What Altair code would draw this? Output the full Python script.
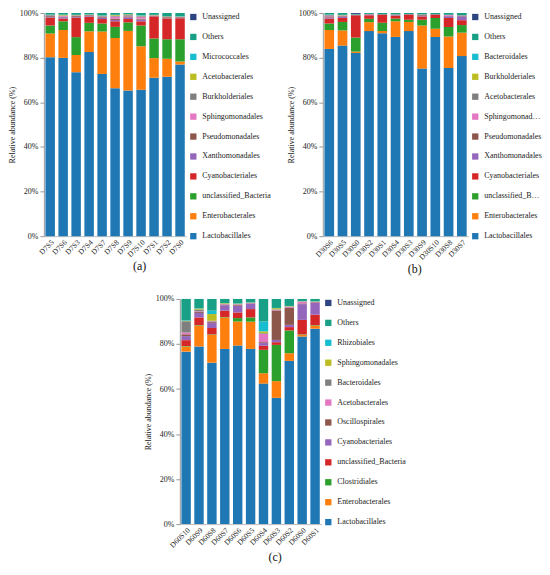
import altair as alt
import pandas as pd

### Relative abundance of the top orders in three groups of samples (D7, D30, D60)

serif = "Liberation Serif"

# same colour sequence in all three panels, from the bottom of the stack upward
palette = ["#1f77b4", "#ff7f0e", "#2ca02c", "#d62728", "#9467bd", "#8c564b",
           "#e377c2", "#7f7f7f", "#bcbd22", "#17becf", "#17a086", "#2e4482"]

### panel (a): day 7

a_samples = ["D7S5", "D7S6", "D7S3", "D7S4", "D7S7", "D7S8", "D7S9", "D7S10", "D7S1", "D7S2", "D7S0"]
a_taxa = ["Lactobacillales", "Enterobacterales", "unclassified_Bacteria", "Cyanobacteriales",
          "Xanthomonadales", "Pseudomonadales", "Sphingomonadales", "Burkholderiales",
          "Acetobacterales", "Micrococcales", "Others", "Unassigned"]
a_values = [
    [80.2, 79.9, 73.5, 82.5, 72.7, 66.3, 65.3, 65.6, 71.0, 71.4, 76.9],
    [10.6, 12.5, 7.7, 9.3, 19.0, 22.5, 26.7, 19.5, 8.8, 8.1, 1.4],
    [3.6, 3.9, 8.0, 3.8, 3.6, 5.0, 3.8, 9.3, 8.8, 8.8, 10.0],
    [3.4, 1.2, 8.6, 2.7, 2.0, 2.5, 1.5, 1.9, 9.9, 9.1, 9.4],
    [0.3, 0.6, 0.3, 0.3, 0.6, 0.6, 0.7, 0.8, 0.1, 0.2, 0.1],
    [0.5, 0.3, 0.5, 0.4, 0.3, 0.5, 0.5, 0.4, 0.2, 0.5, 0.3],
    [0.2, 0.3, 0.2, 0.1, 0.2, 1.0, 0.3, 0.8, 0.1, 0.1, 0.1],
    [0.3, 0.2, 0.2, 0.1, 0.3, 0.4, 0.3, 0.3, 0.1, 0.2, 0.1],
    [0.1, 0.3, 0.1, 0.1, 0.1, 0.3, 0.3, 0.2, 0.1, 0.1, 0.1],
    [0.1, 0.1, 0.1, 0.1, 0.1, 0.1, 0.1, 0.2, 0.1, 0.1, 0.1],
    [0.7, 0.7, 0.8, 0.6, 1.1, 0.8, 0.5, 1.0, 0.8, 1.4, 1.5],
    [0.0, 0.0, 0.0, 0.0, 0.0, 0.0, 0.0, 0.0, 0.0, 0.0, 0.0],
]

### panel (b): day 30

b_samples = ["D30S6", "D30S5", "D30S0", "D30S2", "D30S1", "D30S4", "D30S3", "D30S9", "D30S10", "D30S8", "D30S7"]
b_taxa = ["Lactobacillales", "Enterobacterales", "unclassified_Bacteria", "Cyanobacteriales",
          "Xanthomonadales", "Pseudomonadales", "Sphingomonadales", "Acetobacterales",
          "Burkholderiales", "Bacteroidales", "Others", "Unassigned"]
b_values = [
    [83.9, 85.4, 82.1, 91.9, 90.9, 89.3, 91.9, 75.1, 89.3, 75.4, 80.7],
    [8.5, 6.8, 0.6, 4.0, 1.0, 7.0, 4.1, 19.3, 3.7, 14.1, 10.5],
    [2.9, 3.8, 6.3, 1.5, 3.7, 1.2, 1.0, 2.6, 4.8, 4.2, 3.4],
    [2.2, 1.8, 10.0, 1.6, 3.7, 1.3, 2.3, 1.5, 1.5, 4.1, 2.2],
    [0.5, 0.5, 0.1, 0.2, 0.1, 0.2, 0.1, 0.3, 0.1, 0.8, 1.7],
    [0.5, 0.3, 0.1, 0.2, 0.1, 0.2, 0.1, 0.4, 0.1, 0.2, 0.3],
    [0.3, 0.2, 0.0, 0.1, 0.0, 0.1, 0.0, 0.1, 0.0, 0.3, 0.1],
    [0.3, 0.2, 0.1, 0.1, 0.0, 0.1, 0.0, 0.1, 0.0, 0.1, 0.1],
    [0.1, 0.1, 0.0, 0.0, 0.0, 0.0, 0.0, 0.0, 0.0, 0.0, 0.0],
    [0.1, 0.1, 0.0, 0.0, 0.0, 0.0, 0.0, 0.0, 0.0, 0.0, 0.0],
    [0.7, 0.8, 0.3, 0.4, 0.5, 0.6, 0.5, 0.6, 0.5, 0.8, 1.0],
    [0.0, 0.0, 0.4, 0.0, 0.0, 0.0, 0.0, 0.0, 0.0, 0.0, 0.0],
]

### panel (c): day 60

c_samples = ["D60S10", "D60S9", "D60S8", "D60S7", "D60S6", "D60S5", "D60S4", "D60S3", "D60S2", "D60S0", "D60S1"]
c_taxa = ["Lactobacillales", "Enterobacterales", "Clostridiales", "unclassified_Bacteria",
          "Cyanobacteriales", "Oscillospirales", "Acetobacterales", "Bacteroidales",
          "Sphingomonadales", "Rhizobiales", "Others", "Unassigned"]
c_values = [
    [76.6, 78.9, 71.7, 77.8, 79.3, 77.8, 62.4, 56.1, 72.5, 83.3, 86.8],
    [2.3, 9.3, 12.4, 14.0, 10.7, 12.1, 4.6, 7.4, 3.4, 0.8, 1.4],
    [0.2, 0.2, 0.2, 0.2, 1.5, 1.9, 10.4, 16.1, 10.1, 0.2, 0.2],
    [2.6, 3.4, 2.8, 2.8, 2.5, 3.7, 1.8, 1.2, 1.5, 6.4, 4.6],
    [1.8, 2.0, 2.2, 2.4, 3.0, 2.4, 1.2, 1.0, 1.0, 7.0, 5.2],
    [0.8, 0.5, 0.4, 0.3, 0.3, 0.2, 0.4, 13.1, 7.5, 0.3, 0.3],
    [0.8, 0.2, 0.3, 0.2, 0.3, 0.1, 3.7, 0.3, 0.4, 0.8, 0.2],
    [5.0, 0.8, 0.3, 0.1, 0.1, 0.1, 0.3, 0.2, 0.2, 0.1, 0.1],
    [0.2, 0.4, 3.0, 0.3, 0.2, 0.1, 0.8, 0.5, 0.2, 0.1, 0.1],
    [0.2, 0.1, 1.5, 0.1, 0.1, 0.1, 4.4, 0.1, 0.1, 0.1, 0.1],
    [9.5, 4.2, 5.2, 1.8, 2.0, 1.5, 10.0, 4.0, 3.1, 0.9, 1.0],
    [0.0, 0.0, 0.0, 0.0, 0.0, 0.0, 0.0, 0.0, 0.0, 0.0, 0.0],
]


### builds one stacked bar panel from a sample list, a taxon list and the values per taxon

def stacked_panel(samples, taxa, values, caption, width, height, label_limit=0):
    rows = []
    for rank, (taxon, vals) in enumerate(zip(taxa, values)):
        for sample, v in zip(samples, vals):
            rows.append({"sample": sample, "taxon": taxon, "rank": rank, "value": v / 100})
    df = pd.DataFrame(rows)

    return (alt.Chart(df, title=alt.Title(caption, orient="bottom", frame="bounds", anchor="middle",
                                           font=serif, fontSize=12, fontWeight="normal",
                                           color="#111111", offset=3))
        .mark_bar()
        .encode(
            x=alt.X("sample:N", sort=samples,
                    scale=alt.Scale(paddingInner=0.27, paddingOuter=0.12),
                    axis=alt.Axis(title=None, labelAngle=-45, labelFontSize=7.5, ticks=False,
                                  labelPadding=2, domainColor="#bbbbbb")),
            y=alt.Y("value:Q", stack="zero",
                    scale=alt.Scale(domain=[0, 1], nice=False),
                    axis=alt.Axis(format=".0%", values=[0, 0.2, 0.4, 0.6, 0.8, 1],
                                  title="Relative abundance (%)", grid=False, tickSize=4,
                                  labelPadding=2, titlePadding=3,
                                  domainColor="#999999", tickColor="#999999")),
            color=alt.Color("taxon:N",
                            scale=alt.Scale(domain=taxa[::-1], range=palette[:len(taxa)][::-1]),
                            legend=alt.Legend(title=None, symbolType="square", symbolSize=40,
                                              symbolStrokeWidth=0, rowPadding=12, offset=3,
                                              padding=0, labelOffset=5, labelLimit=label_limit)),
            order=alt.Order("rank:Q", sort="ascending")
        )
        .properties(width=width, height=height))


chart_a = stacked_panel(a_samples, a_taxa, a_values, "(a)", 143, 224)
chart_b = stacked_panel(b_samples, b_taxa, b_values, "(b)", 146, 224, label_limit=58)
chart_c = stacked_panel(c_samples, c_taxa, c_values, "(c)", 142, 226)

top_row = alt.hconcat(chart_a, chart_b, spacing=16).resolve_scale(color="independent")

chart = (alt.vconcat(top_row, chart_c, spacing=20, center=True)
    .resolve_scale(color="independent")
    .properties(padding=0)
    .configure_view(stroke=None)
    .configure_axis(labelFont=serif, titleFont=serif, labelFontSize=8, titleFontSize=8,
                    titleFontWeight="normal", labelColor="#222222", titleColor="#222222")
    .configure_legend(labelFont=serif, labelFontSize=8, labelColor="#222222"))

chart.save("out.html", embed_options={"renderer": "svg", "actions": False})
